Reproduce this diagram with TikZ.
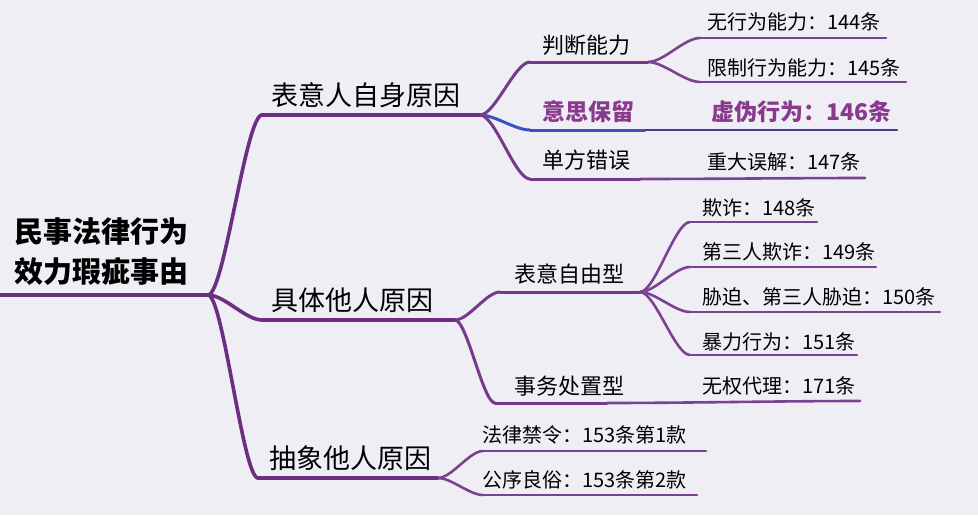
\documentclass[tikz,border=0pt]{standalone}
\usepackage{fontspec}
\setmainfont{Noto Sans CJK SC}
\usetikzlibrary{calc}
\definecolor{bgc}{HTML}{EFEEF4}
\definecolor{lnA}{HTML}{6C2F80}
\definecolor{lnB}{HTML}{763A8A}
\definecolor{lnC}{HTML}{7A4290}
\definecolor{bluc}{HTML}{3E4FC2}
\definecolor{navc}{HTML}{4A3C88}
\definecolor{ptxt}{HTML}{8A3A8E}
\newcommand\brc[3][]{\draw[#1] let \p1=(#2),\p2=(#3) in (\p1) .. controls ({\x1+0.3*(\x2-\x1)},\y1) and ({\x2-0.3*(\x2-\x1)},\y2) .. (\p2);}
\tikzset{
  w0/.style={line width=4.5pt,lnA,line cap=round},
  w1/.style={line width=3.6pt,lnA,line cap=round},
  w2/.style={line width=3pt,lnB,line cap=round},
  w3/.style={line width=2.6pt,lnC,line cap=round},
  txt/.style={anchor=west,inner sep=0pt,text=black},
  t0/.style={txt,font=\fontsize{29}{40}\selectfont\bfseries,align=left},
  t1/.style={txt,font=\fontsize{27}{30}\selectfont},
  t2/.style={txt,font=\fontsize{22}{25}\selectfont},
  t3/.style={txt,font=\fontsize{20}{23}\selectfont},
  hl/.style={text=ptxt,font=\fontsize{23}{26}\selectfont\bfseries},
}
\begin{document}
\begin{tikzpicture}[x=1pt,y=-1pt]
\fill[bgc] (0,0) rectangle (978,515);
\useasboundingbox (0,0) rectangle (978,515);
% coordinates
\coordinate (R0) at (0,295);
\coordinate (R) at (208,295);
\coordinate (A1s) at (262,115); \coordinate (A1e) at (480,115);
\coordinate (A2s) at (262,320); \coordinate (A2e) at (455,320);
\coordinate (A3s) at (258,478); \coordinate (A3e) at (438,478);
\coordinate (B1s) at (530,62);  \coordinate (B1e) at (648,62);
\coordinate (B2s) at (530,130); \coordinate (B2m) at (645,130); \coordinate (B2e) at (897,130);
\coordinate (B3s) at (530,179); \coordinate (B3m) at (640,179); \coordinate (B3e) at (865,178);
\coordinate (C1s) at (700,38);  \coordinate (C1e) at (886,38);
\coordinate (C2s) at (700,82);  \coordinate (C2e) at (906,82);
\coordinate (D1s) at (500,292); \coordinate (D1e) at (640,292);
\coordinate (D2s) at (495,403); \coordinate (D2m) at (607,403); \coordinate (D2e) at (860,401);
\coordinate (E1s) at (690,222); \coordinate (E1e) at (817,222);
\coordinate (E2s) at (690,267); \coordinate (E2e) at (876,267);
\coordinate (E3s) at (690,312); \coordinate (E3e) at (940,312);
\coordinate (E4s) at (690,355); \coordinate (E4e) at (857,355);
\coordinate (F1s) at (483,451); \coordinate (F1e) at (706,451);
\coordinate (F2s) at (483,495); \coordinate (F2e) at (697,495);
% level 0
\draw[w0] (R0) -- (R);
\brc[w1]{R}{A1s} \draw[w1] (A1s) -- (A1e);
\brc[w1]{R}{A2s} \draw[w1] (A2s) -- (A2e);
\brc[w1]{R}{A3s} \draw[w1] (A3s) -- (A3e);
% level 2 under A1
\brc[w2]{A1e}{B1s} \draw[w2] (B1s) -- (B1e);
\brc[w2,bluc]{A1e}{B2s} \draw[w2,bluc] (B2s) -- (B2m);
\draw[w3,navc] (B2m) -- (B2e);
\brc[w2]{A1e}{B3s} \draw[w2] (B3s) -- (B3m);
\brc[w3]{B3m}{B3e}
\brc[w3]{B1e}{C1s} \draw[w3] (C1s) -- (C1e);
\brc[w3]{B1e}{C2s} \draw[w3] (C2s) -- (C2e);
% under A2
\brc[w2]{A2e}{D1s} \draw[w2] (D1s) -- (D1e);
\brc[w2]{A2e}{D2s} \draw[w2] (D2s) -- (D2m);
\brc[w3]{D2m}{D2e}
\brc[w3]{D1e}{E1s} \draw[w3] (E1s) -- (E1e);
\brc[w3]{D1e}{E2s} \draw[w3] (E2s) -- (E2e);
\brc[w3]{D1e}{E3s} \draw[w3] (E3s) -- (E3e);
\brc[w3]{D1e}{E4s} \draw[w3] (E4s) -- (E4e);
% under A3
\brc[w3]{A3e}{F1s} \draw[w3] (F1s) -- (F1e);
\brc[w3]{A3e}{F2s} \draw[w3] (F2s) -- (F2e);
% texts
\node[t0] (root) at (14,252) {民事法律行为\\效力瑕疵事由};
\node[t1] (a1) at (271,95) {表意人自身原因};
\node[t1] (a2) at (271,300) {具体他人原因};
\node[t1] (a3) at (269,458) {抽象他人原因};
\node[t2] (b1) at (542,45) {判断能力};
\node[t2,hl] (b2) at (542,112) {意思保留};
\node[t2] (b3) at (542,160) {单方错误};
\node[t3] (c1) at (707,22) {无行为能力：144条};
\node[t3] (c2) at (707,68) {限制行为能力：145条};
\node[t3,hl] (c3) at (711,112) {虚伪行为：146条};
\node[t3] (c4) at (707,162) {重大误解：147条};
\node[t2] (d1) at (514,274) {表意自由型};
\node[t2] (d2) at (514,386) {事务处置型};
\node[t3] (e1) at (702,208) {欺诈：148条};
\node[t3] (e2) at (702,252) {第三人欺诈：149条};
\node[t3] (e3) at (702,297) {胁迫、第三人胁迫：150条};
\node[t3] (e4) at (702,342) {暴力行为：151条};
\node[t3] (e5) at (702,386) {无权代理：171条};
\node[t3] (f1) at (482,435) {法律禁令：153条第1款};
\node[t3] (f2) at (482,480) {公序良俗：153条第2款};
\end{tikzpicture}
\end{document}
